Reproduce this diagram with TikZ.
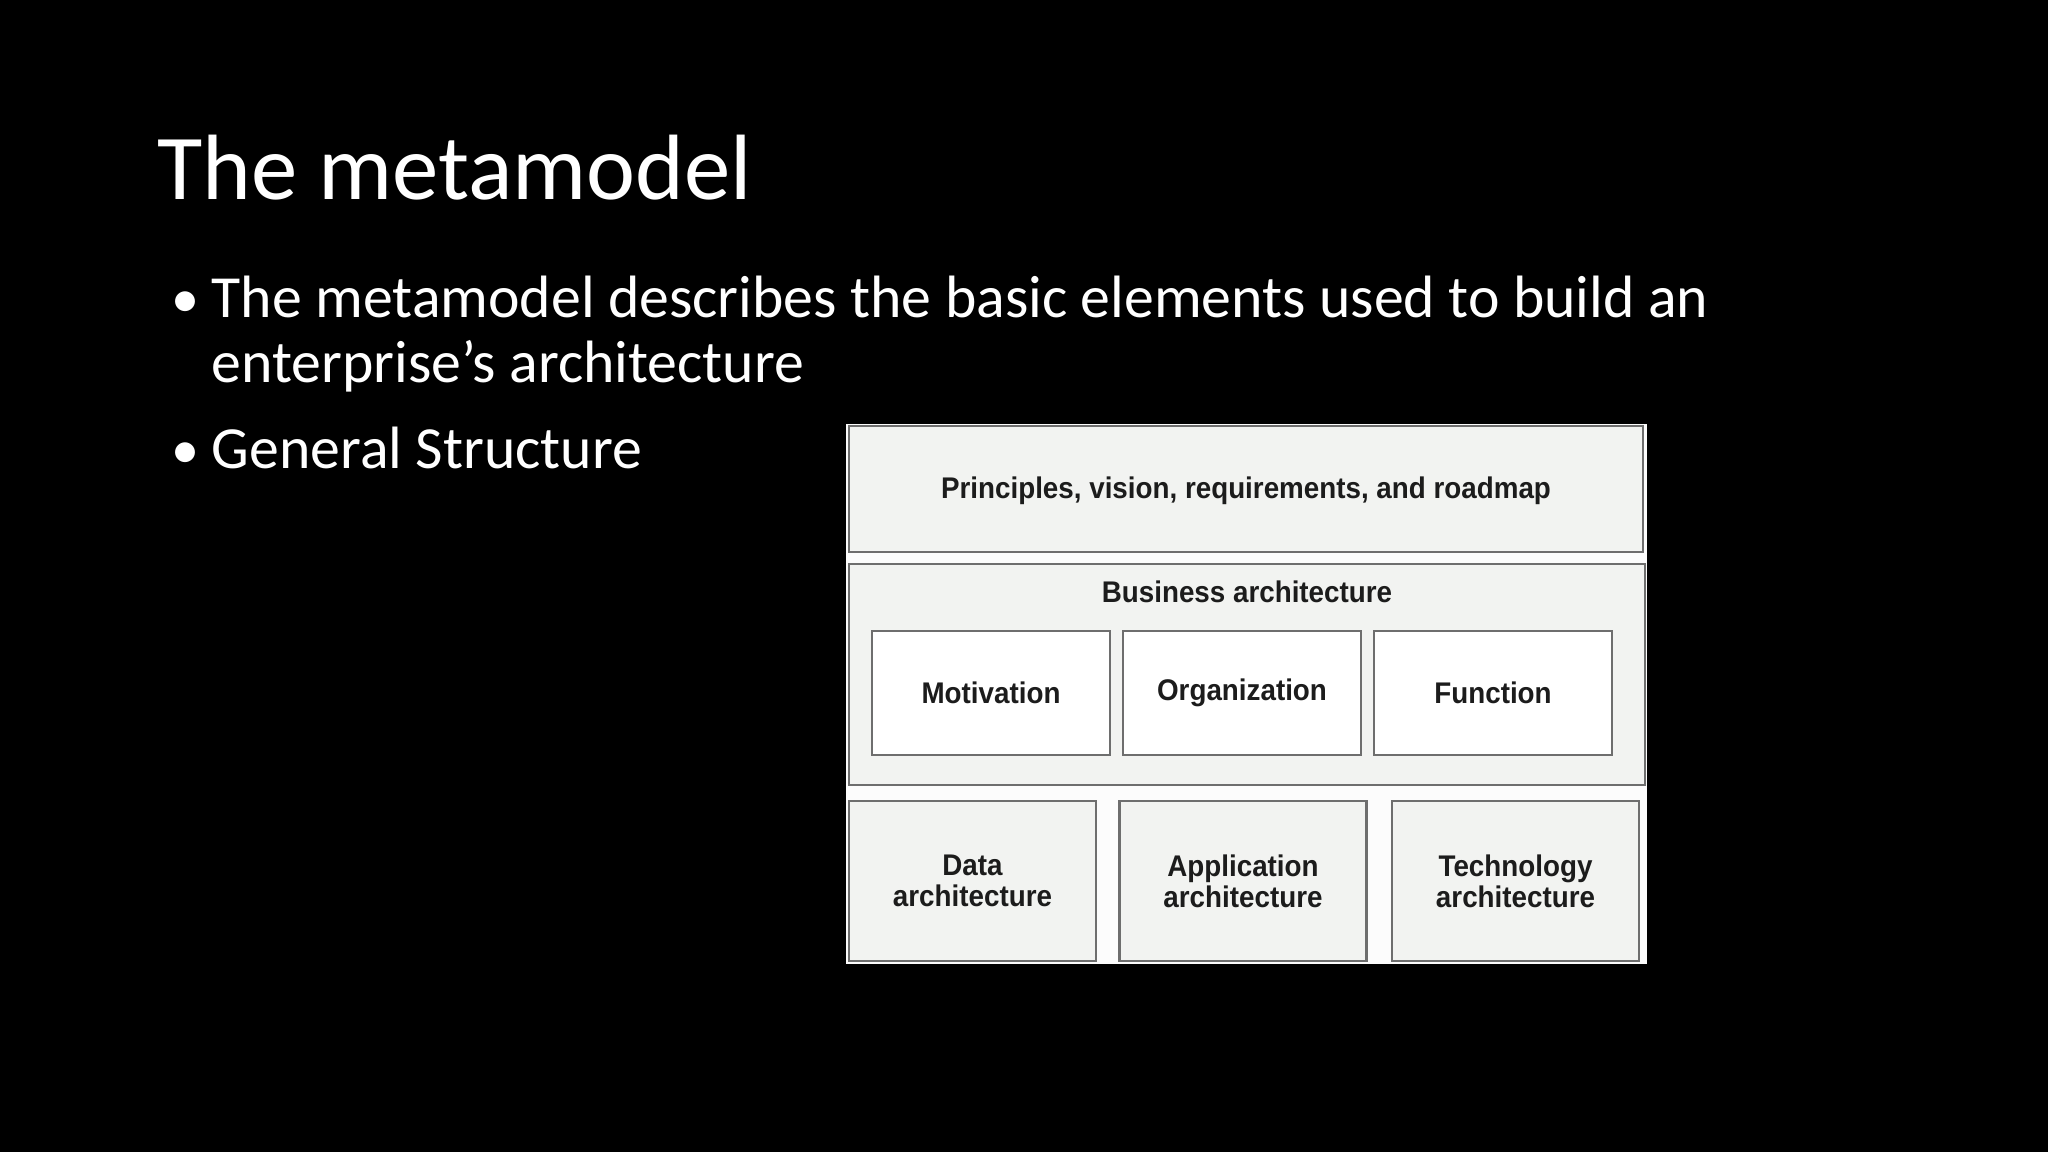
\documentclass[tikz,border=0pt]{standalone}
\usepackage{fontspec}
\setmainfont{Carlito}
\newfontfamily\diagfont[FakeStretch=0.93]{Liberation Sans}

\definecolor{boxedge}{HTML}{6E6E6E}
\definecolor{boxfill}{HTML}{F2F3F1}
\definecolor{diagback}{HTML}{FCFCFC}
\definecolor{diagtext}{HTML}{1C1C1C}

\begin{document}
\begin{tikzpicture}

% Slide layout
\tikzstyle{slide}=[anchor=base west, inner sep=0pt, text=white]
\tikzstyle{titletext}=[slide, font=\fontsize{52.8}{60}\selectfont]
\tikzstyle{bullettext}=[slide, font=\fontsize{34}{40}\selectfont]
\tikzstyle{bulletdot}=[slide, font=\fontsize{32}{36}\selectfont]

% Styles for the metamodel boxes
\tikzstyle{layerbox}=[rectangle, draw=boxedge, line width=1.6pt, fill=boxfill, inner sep=0pt]
\tikzstyle{partbox}=[layerbox, fill=white, minimum width=4.76cm, minimum height=2.48cm]
\tikzstyle{domainbox}=[layerbox, minimum width=4.94cm, minimum height=3.2cm]
\tikzstyle{boxtext}=[text=diagtext, align=center, font=\diagfont\bfseries\fontsize{17}{17.8}\selectfont]

\fill[black] (0,0) rectangle (40.96,-23.04);
\useasboundingbox (0,0) rectangle (40.96,-23.04);

\node[titletext] (title) at (3.14,-4.0) {The metamodel};
\node[bulletdot] (dot1) at (3.42,-6.34) {•};
\node[bullettext] (line1) at (4.23,-6.34) {The metamodel describes the basic elements used to build an};
\node[bullettext] (line2) at (4.23,-7.64) {enterprise’s architecture};
\node[bulletdot] (dot2) at (3.42,-9.36) {•};
\node[bullettext] (line3) at (4.23,-9.36) {General Structure};

% Picture of the metamodel
\fill[diagback] (16.92,-8.48) rectangle (32.94,-19.28);

\node[layerbox, minimum width=15.88cm, minimum height=2.52cm] (vision) at (24.92,-9.78) {};
\node[boxtext] at ([yshift=-0.04cm]vision) {Principles, vision, requirements, and roadmap};

\node[layerbox, minimum width=15.92cm, minimum height=4.42cm] (business) at (24.94,-13.49) {};
\node[boxtext] (businesslabel) at (24.94,-11.84) {Business architecture};

\node[partbox] (motivation) at (19.82,-13.86) {};
\node[boxtext] at (motivation) {Motivation};
\node[partbox] (organization) at (24.84,-13.86) {};
\node[boxtext] at (organization) {Organization};
\node[partbox] (function) at (29.86,-13.86) {};
\node[boxtext] at (function) {Function};

\node[domainbox] (data) at (19.45,-17.62) {};
\node[boxtext] at (data) {Data\\architecture};
\node[domainbox] (application) at (24.86,-17.62) {};
\node[boxtext] at (application) {Application\\architecture};
\node[domainbox] (technology) at (30.31,-17.62) {};
\node[boxtext] at (technology) {Technology\\architecture};

\end{tikzpicture}
\end{document}
